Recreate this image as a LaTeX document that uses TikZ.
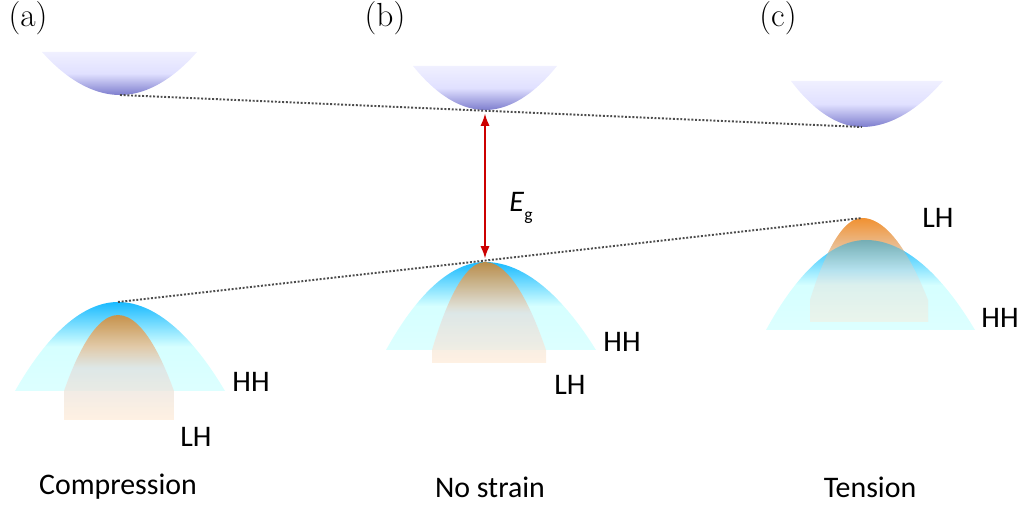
\documentclass[tikz,border=0pt]{standalone}
\usepackage{fontspec}
\setsansfont{Carlito}
\usetikzlibrary{arrows.meta}
\tikzset{
  cbowl/.style={top color=blue!6!white, bottom color=blue!45!gray!70, middle color=blue!12!white},
  hhband/.style={top color=cyan!70!blue, bottom color=cyan!15, middle color=cyan!18, fill opacity=0.9},
  lhband/.style={top color=orange!75!brown, bottom color=orange!15, middle color=gray!25, fill opacity=0.75},
  lbl/.style={font=\sffamily\fontsize{17}{17}\selectfont},
  panel/.style={font=\fontsize{19}{19}\selectfont},
  guide/.style={densely dotted, line width=1.1pt, black!70}
}
\begin{document}
\begin{tikzpicture}[x=0.02cm, y=-0.02cm]
  \useasboundingbox (0,0) rectangle (1025,506);
  % conduction band bowls
  \shade[cbowl] (42,52) parabola bend (120,95) (197,52) -- cycle;
  \shade[cbowl] (413,66) parabola bend (485,110) (557,66) -- cycle;
  \shade[cbowl] (791,81) parabola bend (862,127) (943,81) -- cycle;
  \coordinate (ca) at (120,95);
  \coordinate (cb) at (485,110);
  \coordinate (cc) at (862,127);
  % (a) compression
  \shade[hhband] (15,391) parabola bend (118,302) (225,391) -- cycle;
  \shade[lhband] (64,420) -- (64,391) parabola bend (118,315) (174,391) -- (174,420) -- cycle;
  \coordinate (va) at (118,302);
  % (b) no strain
  \shade[hhband] (386,350) parabola bend (485,262) (596,350) -- cycle;
  \shade[lhband] (432,363) -- (432,350) parabola bend (485,262) (546,350) -- (546,363) -- cycle;
  \coordinate (vb) at (485,262);
  % (c) tension
  \shade[lhband] (810,322) -- (810,300) parabola bend (862,218) (928,300) -- (928,322) -- cycle;
  \shade[hhband] (766,330) parabola bend (866,240) (975,330) -- cycle;
  \shade[lhband, fill opacity=0.45] (810,322) -- (810,300) parabola bend (862,218) (928,300) -- (928,322) -- cycle;
  \coordinate (vc) at (862,218);
  % guides and gap
  \draw[guide] (ca) -- (cc);
  \draw[guide] (va) -- (vc);
  \draw[{Latex[length=7pt]}-{Latex[length=7pt]}, red!80!black, line width=1.1pt] ([yshift=-2pt]cb) -- ([yshift=2pt]vb);
  \node[lbl] (eg) at (521,208) {\textit{E}\raisebox{-0.6ex}{\fontsize{10}{10}\selectfont g}};
  % labels
  \node[panel] (pa) at (28,18) {(a)};
  \node[panel] (pb) at (385,18) {(b)};
  \node[panel] (pc) at (778,18) {(c)};
  \node[lbl] (hha) at (251,382) {HH};
  \node[lbl] (lha) at (196,437) {LH};
  \node[lbl] (hhb) at (622,342) {HH};
  \node[lbl] (lhb) at (570,385) {LH};
  \node[lbl] (lhc) at (938,218) {LH};
  \node[lbl] (hhc) at (1000,318) {HH};
  \node[lbl] (ta) at (118,487) {Compression};
  \node[lbl] (tb) at (490,487) {No strain};
  \node[lbl] (tc) at (870,487) {Tension};
\end{tikzpicture}
\end{document}
